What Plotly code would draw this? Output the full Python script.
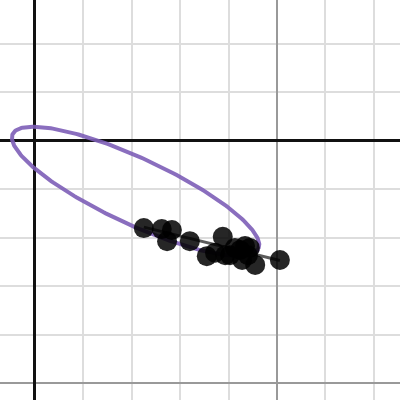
import numpy as np
import plotly.graph_objects as go

# scatter points
px = [2.25, 2.62, 2.83, 2.73, 3.20, 3.88, 3.55, 3.72, 4.03, 4.24, 4.34, 4.44, 4.28, 4.55, 5.06, 4.13, 3.93, 4.40]
py = [-1.80, -1.82, -1.84, -2.07, -2.07, -1.98, -2.38, -2.31, -2.36, -2.25, -2.17, -2.21, -2.46, -2.56, -2.46, -2.21, -2.36, -2.36]

# fit line ends
line_x = [2.25, 5.06]
line_y = [-1.78, -2.47]

# ellipse parameters
cx, cy = 2.08, -1.04
semi_major, semi_minor = 2.8, 0.68
angle = np.deg2rad(-25)

t = np.linspace(0, 2 * np.pi, 300)
ex = cx + semi_major * np.cos(t) * np.cos(angle) - semi_minor * np.sin(t) * np.sin(angle)
ey = cy + semi_major * np.cos(t) * np.sin(angle) + semi_minor * np.sin(t) * np.cos(angle)

fig = go.Figure()
fig.add_trace(go.Scatter(x=ex, y=ey, mode="lines",
                         line=dict(color="#7e5fb8", width=4), opacity=0.9))
fig.add_trace(go.Scatter(x=line_x, y=line_y, mode="lines",
                         line=dict(color="#333333", width=3), opacity=0.8))
fig.add_trace(go.Scatter(x=px, y=py, mode="markers",
                         marker=dict(color="black", size=20, opacity=0.85)))

ax = dict(showticklabels=False, ticks="", dtick=5, tick0=0,
          gridcolor="#999999", gridwidth=1.5,
          minor=dict(dtick=1, tick0=0, gridcolor="#dddddd", gridwidth=1.5, showgrid=True),
          zeroline=True, zerolinecolor="#111111", zerolinewidth=2.5, showline=False)

fig.update_layout(
    width=400, height=400, margin=dict(l=0, r=0, t=0, b=0),
    plot_bgcolor="white", paper_bgcolor="white", showlegend=False,
    xaxis=dict(range=[-0.72, 7.54], **ax),
    yaxis=dict(range=[-5.35, 2.91], **ax),
)

fig.write_html("out.html", config={"displayModeBar": False})
with open("out.html") as f:
    html = f.read()
html = html.replace("<head>", "<head><style>body{margin:0}</style>", 1)
with open("out.html", "w") as f:
    f.write(html)
